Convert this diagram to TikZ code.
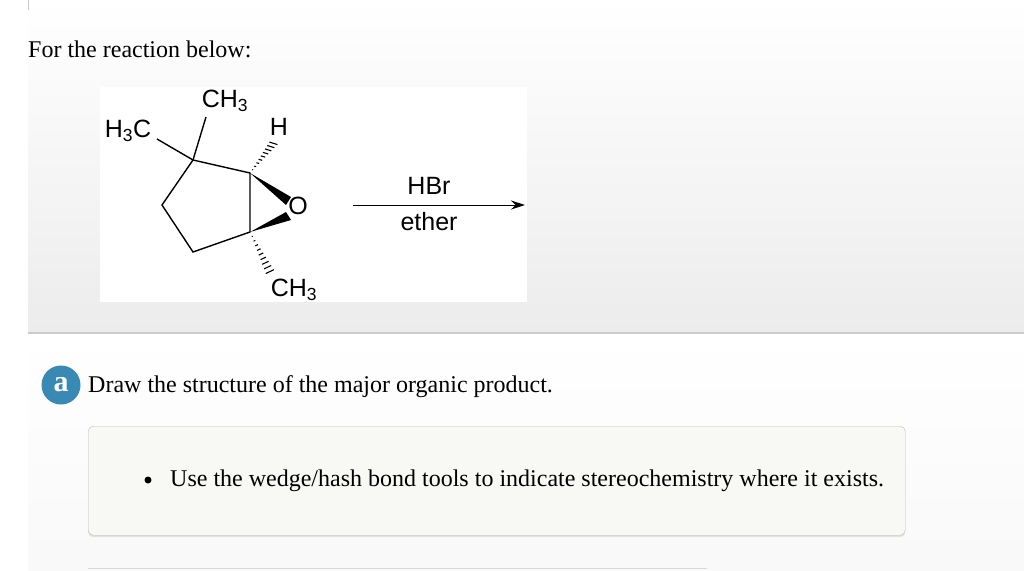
\documentclass[tikz,border=0pt]{standalone}
\usepackage{fontspec}
\setmainfont{Liberation Serif}
\newfontfamily\chem{Liberation Sans}
\usetikzlibrary{shadows,calc,arrows.meta}
\begin{document}
\begin{tikzpicture}[x=1pt,y=-1pt,
  bond/.style={line width=1.4pt},
  lab/.style={font=\chem\fontsize{25}{25}\selectfont, inner sep=0pt},
  txt/.style={font=\fontsize{24}{24}\selectfont, inner sep=0pt, anchor=west}]
\useasboundingbox (0,0) rectangle (1024,570);
\fill[white] (0,0) rectangle (1024,570);
\shade[top color=white, bottom color=gray!15] (28,0) rectangle (1024,333);
\draw[gray!40, line width=1.5pt] (28,333) -- (1024,333);
\draw[gray!40] (28,0) -- (28,10);
\shade[top color=white, bottom color=gray!5] (28,334) rectangle (1024,570);
\draw[gray!30, line width=1pt] (88,568) -- (707,568);
\node[txt] (title) at (28,49) {For the reaction below:};
\fill[white] (100,87) rectangle (527,302);
% molecule
\coordinate (c1) at (193,160);
\coordinate (c2) at (250,173);
\coordinate (c3) at (250,232);
\coordinate (c4) at (193,252);
\coordinate (c5) at (162,205);
\node[lab] (o) at (298,206) {O};
\node[lab] (h) at (279,127) {H};
\node[lab] (me1) at (225,101) {CH\textsubscript{3}};
\node[lab] (me2) at (128,131) {H\textsubscript{3}C};
\node[lab] (me3) at (294,290) {CH\textsubscript{3}};
\draw[bond] (c1) -- (c2) -- (c3) -- (c4) -- (c5) -- cycle;
\draw[bond] (c1) -- (206,117);
\draw[bond] (c1) -- (157,139);
\fill (c2) -- (291,197) -- (286,205) -- cycle;
\fill (c3) -- (286,212) -- (291,220) -- cycle;
\foreach \t in {0.1,0.2,...,0.95}{
  \draw[line width=1.1pt] ($(c2)!\t!(276,140)$) ++ (-{\t*4.5},-{\t*1.4}) -- ++({\t*9},{\t*2.8});
}
\foreach \t in {0.1,0.2,...,0.95}{
  \draw[line width=1.1pt] ($(c3)!\t!(272,276)$) ++ (-{\t*4.5},{\t*2.2}) -- ++({\t*9},-{\t*4.4});
}
% arrow
\node[lab] (hbr) at (429,186) {HBr};
\node[lab] (eth) at (429,222) {ether};
\coordinate (a1) at (353,205);
\coordinate (a2) at (525,205);
\draw[line width=1pt, -{Stealth[length=14pt,width=9pt]}] (a1) -- (a2);
% part a
\node[circle, fill={rgb,255:red,57;green,137;blue,181}, minimum size=39pt, inner sep=0pt,
  text=white, font=\bfseries\fontsize{30}{30}\selectfont] (badge) at (61,385) {\raisebox{1pt}{a}};
\node[txt] (q) at (88,387) {Draw the structure of the major organic product.};
\node[draw=gray!50, fill={rgb,255:red,248;green,248;blue,244}, rounded corners=5pt,
  minimum width=817pt, minimum height=109pt, drop shadow={opacity=0.2,shadow xshift=0pt,shadow yshift=-2pt}, anchor=north west] (box) at (88,426) {};
\fill (148,480) circle (3.5pt);
\node[txt] (hint) at (170,481) {Use the wedge/hash bond tools to indicate stereochemistry where it exists.};
\end{tikzpicture}
\end{document}
